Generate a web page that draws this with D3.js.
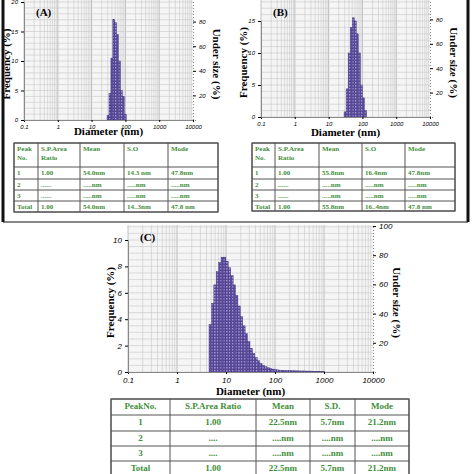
<!DOCTYPE html>
<html><head><meta charset="utf-8">
<script src="https://cdn.jsdelivr.net/npm/d3@7"></script>
<style>body{margin:0;background:#fff}svg{display:block}</style>
</head><body>
<svg id="fig" width="474" height="474"></svg>
<script>
/* data */
var a_diam = [28.6, 32.6, 37.2, 42.4, 48.3, 55, 62.7, 71.5, 81.5, 93, 106];
var a_freq = [0.8, 4.5, 10.5, 17, 16.5, 14.5, 10, 5, 4, 1];
var b_diam = [28.6, 32.9, 37.8, 43.5, 50, 57.5, 66, 76, 87.5, 100.5, 116, 133];
var b_freq = [0.8, 4.4, 10, 14, 15.5, 15, 13, 10, 5, 3, 1];
var c_diam = [4.5, 5.04, 5.64, 6.32, 7.08, 7.93, 8.88, 9.95, 11.1, 12.5, 14, 15.7, 17.5, 19.6, 22, 24.6,
	27.6, 30.9, 34.6, 38.8, 43.4, 48.6, 54.5, 61, 68.3, 76.5, 85.7, 96, 107.5, 120, 135, 151, 169, 189,
	212, 238, 266, 298, 334, 374, 419, 469, 525, 588, 659, 738, 826, 925, 1036];
var c_freq = [3.6, 5.2, 6.6, 7.6, 8.3, 8.7, 8.7, 8.4, 7.9, 7.3, 6.6, 5.8, 5.0, 4.2, 3.5, 2.9,
	2.3, 1.8, 1.4, 1.1, 0.85, 0.65, 0.5, 0.4, 0.32, 0.26, 0.22, 0.19, 0.16, 0.14, 0.13, 0.12, 0.11, 0.1,
	0.1, 0.09, 0.09, 0.08, 0.08, 0.08, 0.07, 0.07, 0.07, 0.06, 0.06, 0.06, 0.05, 0.05];
var x_ticks = [0.1, 1, 10, 100, 1000, 10000];
var a_yticks = [0, 5, 10, 15, 20];
var c_yticks = [0, 2, 4, 6, 8, 10];
var r_ticks = [20, 40, 60, 80];
var c_rticks = [20, 40, 60, 80, 100];
var t_head = ["Peak No.", "S.P.Area Ratio", "Mean", "S.O", "Mode"];
var a_rows = [["1", "1.00", "54.0nm", "14.3 nm", "47.8nm"], ["2", "......", ".....nm", ".....nm", ".....nm"],
	["3", "......", ".....nm", ".....nm", ".....nm"], ["Total", "1.00", "54.0nm", "14..3nm", "47.8 nm"]];
var b_rows = [["1", "1.00", "55.8nm", "16.4nm", "47.8nm"], ["2", "......", ".....nm", ".....nm", ".....nm"],
	["3", "......", ".....nm", ".....nm", ".....nm"], ["Total", "1.00", "55.8nm", "16..4nm", "47.8 nm"]];
var c_head = ["PeakNo.", "S.P.Area Ratio", "Mean", "S.D.", "Mode"];
var c_rows = [["1", "1.00", "22.5nm", "5.7nm", "21.2nm"], ["2", "....", "....nm", "....nm", "....nm"],
	["3", "....", "....nm", "....nm", "....nm"], ["Total", "1.00", "22.5nm", "5.7nm", "21.2nm"]];

var svg = d3.select("#fig");
var serif = "'Liberation Serif', 'DejaVu Serif', serif";
var green = "#3f8f3a";

var defs = svg.append("defs");
var pat = defs.append("pattern").attr("id", "hatch").attr("patternUnits", "userSpaceOnUse")
	.attr("width", 3).attr("height", 3);
pat.append("rect").attr("width", 3).attr("height", 3).attr("fill", "#5a4a9c");
pat.append("rect").attr("x", 1).attr("y", 1).attr("width", 1.5).attr("height", 1.5).attr("fill", "#a79ad4");

function panel(o){
	var x = d3.scaleLog().domain([0.1, 10000]).range([o.x0, o.x1]);
	var y = d3.scaleLinear().domain([0, o.ymax]).range([o.y0, o.y1]);
	var yr = d3.scaleLinear().domain([0, 100]).range([o.y0, o.r100]);
	var g = svg.append("g");
	g.append("rect").attr("x", o.x0).attr("y", o.top).attr("width", o.x1 - o.x0).attr("height", o.y0 - o.top)
		.attr("fill", "#f5f5f5");
	// minor log grid
	for (var d = 0.1; d < 10000; d *= 10)
		for (var k = 1; k < 10; k++)
			g.append("line").attr("x1", x(d*k)).attr("x2", x(d*k)).attr("y1", o.top).attr("y2", o.y0)
				.attr("stroke", k == 1 ? "#999" : "#c8c8c8").attr("stroke-width", 0.6);
	for (var v = 0; v <= y.invert(o.top); v += o.ystep)
		g.append("line").attr("x1", o.x0).attr("x2", o.x1).attr("y1", y(v)).attr("y2", y(v))
			.attr("stroke", "#c8c8c8").attr("stroke-width", 0.6);
	// bars
	for (var i = 0; i < o.freq.length; i++)
		g.append("rect").attr("x", x(o.diam[i])).attr("width", x(o.diam[i+1]) - x(o.diam[i]))
			.attr("y", y(o.freq[i])).attr("height", o.y0 - y(o.freq[i]))
			.attr("fill", "url(#hatch)").attr("stroke", "#3b2f7a").attr("stroke-width", 0.4);
	var fs = o.fs;
	g.append("g").attr("transform", "translate(0," + o.y0 + ")")
		.call(d3.axisBottom(x).tickValues(x_ticks).tickFormat(d => String(d)).tickSize(2))
		.call(s => s.select(".domain").attr("stroke", "#888"))
		.selectAll("text").attr("font-style", "italic").attr("font-size", fs).attr("font-family", "Arial, sans-serif");
	g.append("g").attr("transform", "translate(" + o.x0 + ",0)")
		.call(d3.axisLeft(y).tickValues(o.yticks).tickSize(3))
		.call(s => s.select(".domain").attr("stroke", "#888"))
		.selectAll("text").attr("font-style", "italic").attr("font-size", fs).attr("font-family", "Arial, sans-serif");
	g.append("g").attr("transform", "translate(" + o.x1 + ",0)")
		.call(d3.axisRight(yr).tickValues(o.rticks).tickSize(3))
		.call(s => s.select(".domain").attr("stroke", "#888").attr("stroke-dasharray", "1,2"))
		.selectAll("text").attr("font-style", "italic").attr("font-size", fs).attr("font-family", "Arial, sans-serif");
	g.append("text").attr("x", o.x0 + 12).attr("y", o.top + 16).text(o.label)
		.attr("font-family", serif).attr("font-weight", "bold").attr("font-size", o.tfs);
	g.append("text").attr("x", (o.x0 + o.x1)/2).attr("y", o.y0 + o.tfs + o.xlab).attr("text-anchor", "middle")
		.text("Diameter (nm)").attr("font-family", serif).attr("font-weight", "bold").attr("font-size", o.tfs);
	g.append("text").attr("transform", "translate(" + (o.x0 - 14) + "," + ((o.top + o.y0)/2 + 4) + ") rotate(-90)")
		.attr("text-anchor", "middle").text("Frequency (%)")
		.attr("font-family", serif).attr("font-weight", "bold").attr("font-size", o.tfs);
	g.append("text").attr("transform", "translate(" + (o.x1 + 20) + "," + ((o.top + o.y0)/2 + 4) + ") rotate(90)")
		.attr("text-anchor", "middle").text("Under size (%)")
		.attr("font-family", serif).attr("font-weight", "bold").attr("font-size", o.tfs);
}

function table(cols, rowsY, head, rows, fs, center){
	var g = svg.append("g");
	var all = [head].concat(rows);
	g.append("rect").attr("x", cols[0]).attr("y", rowsY[0]).attr("width", cols[5] - cols[0])
		.attr("height", rowsY[rowsY.length-1] - rowsY[0]).attr("fill", "none").attr("stroke", "#555").attr("stroke-width", 1.2);
	cols.forEach(c => g.append("line").attr("x1", c).attr("x2", c).attr("y1", rowsY[0]).attr("y2", rowsY[rowsY.length-1])
		.attr("stroke", "#555"));
	rowsY.forEach(r => g.append("line").attr("x1", cols[0]).attr("x2", cols[5]).attr("y1", r).attr("y2", r)
		.attr("stroke", "#555"));
	all.forEach(function(row, ri){
		row.forEach(function(t, ci){
			var tx = center ? (cols[ci] + cols[ci+1])/2 : cols[ci] + 3;
			var lines = (!center && ri == 0) ? t.split(/ (?=No|Ratio)/) : [t];
			lines.forEach(function(l, li){
				g.append("text").attr("x", tx).attr("y", rowsY[ri] + fs + 1 + li*(fs + 2))
					.attr("text-anchor", center ? "middle" : "start").text(l)
					.attr("font-family", serif).attr("font-weight", "bold").attr("font-size", fs)
					.attr("fill", green);
			});
		});
	});
}

panel({x0: 24, x1: 193, y0: 120, y1: 2, top: 0, r100: -3, ymax: 20, ystep: 1, yticks: a_yticks, rticks: r_ticks,
	diam: a_diam, freq: a_freq, label: "(A)", fs: 6, tfs: 11, xlab: 4});
panel({x0: 261, x1: 430, y0: 117, y1: 21, top: 0, r100: -5, ymax: 15, ystep: 1, yticks: a_yticks, rticks: r_ticks,
	diam: b_diam, freq: b_freq, label: "(B)", fs: 6, tfs: 11, xlab: 8});
panel({x0: 128, x1: 373, y0: 372, y1: 240, top: 225, r100: 226, ymax: 10, ystep: 0.5, yticks: c_yticks, rticks: c_rticks,
	diam: c_diam, freq: c_freq, label: "(C)", fs: 8, tfs: 11, xlab: 12});

table([14, 38, 80, 124, 168, 218], [143, 167, 179, 190, 201, 212], t_head, a_rows, 7, false);
table([252, 275, 319, 362, 405, 455], [143, 167, 179, 190, 201, 211], t_head, b_rows, 7, false);
table([111, 170, 256, 310, 355, 409], [399, 415, 431, 446, 461, 476], c_head, c_rows, 9, true);

// frame
svg.append("line").attr("x1", 3).attr("x2", 3).attr("y1", 0).attr("y2", 222).attr("stroke", "#111").attr("stroke-width", 3);
svg.append("line").attr("x1", 468).attr("x2", 468).attr("y1", 0).attr("y2", 222).attr("stroke", "#111").attr("stroke-width", 3);
svg.append("line").attr("x1", 3).attr("x2", 468).attr("y1", 222).attr("y2", 222).attr("stroke", "#111").attr("stroke-width", 1);
</script>
</body></html>
